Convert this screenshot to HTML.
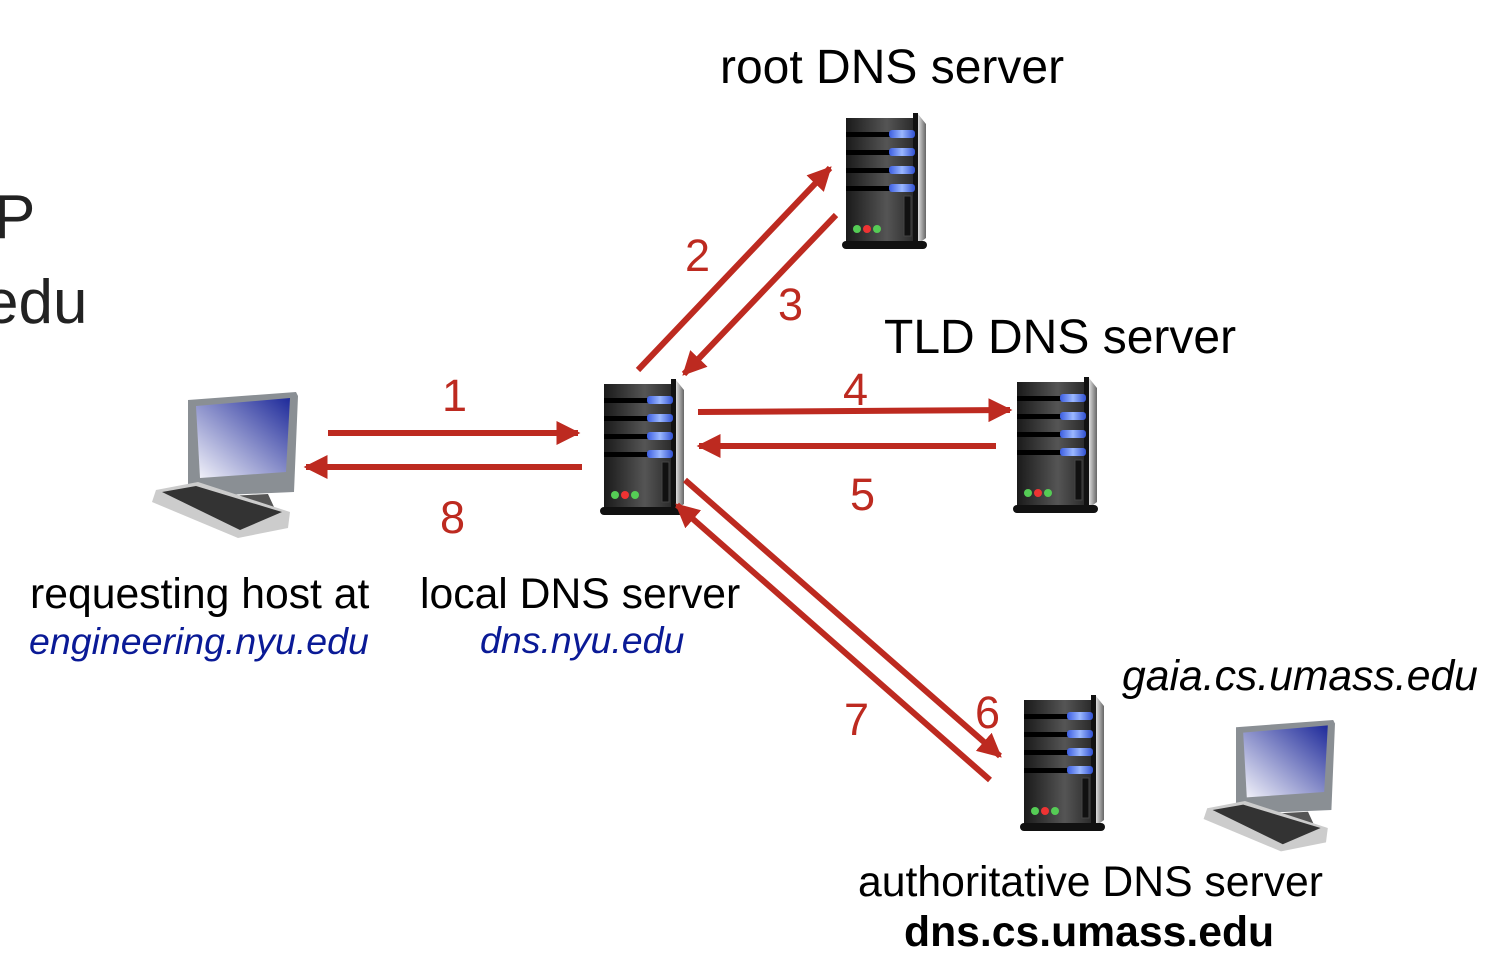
<!DOCTYPE html>
<html><head><meta charset="utf-8"><style>
html,body{margin:0;padding:0;background:#fff;}
svg{display:block;font-family:"Liberation Sans",sans-serif;}
</style></head><body>
<svg width="1500" height="972" viewBox="0 0 1500 972" xmlns="http://www.w3.org/2000/svg">
<defs>
<linearGradient id="sv" x1="0" x2="1" y1="0" y2="0"><stop offset="0" stop-color="#1a1a1a"/><stop offset="0.6" stop-color="#555"/><stop offset="1" stop-color="#2a2a2a"/></linearGradient>
<linearGradient id="sd" x1="0" x2="1"><stop offset="0" stop-color="#ddd"/><stop offset="1" stop-color="#666"/></linearGradient>
<linearGradient id="bl" x1="0" x2="1"><stop offset="0" stop-color="#3b5de0"/><stop offset="0.5" stop-color="#9bb8ff"/><stop offset="1" stop-color="#3050d0"/></linearGradient>
<linearGradient id="scr" x1="0" y1="1" x2="1" y2="0"><stop offset="0" stop-color="#f4f4fa"/><stop offset="1" stop-color="#1e2a9a"/></linearGradient>
<marker id="ah" viewBox="0 0 10 10" refX="9" refY="5" markerWidth="4" markerHeight="4" orient="auto-start-reverse"><path d="M0,0 L10,5 L0,10 z" fill="#bd2a20"/></marker>
<g id="server">
<rect x="4" y="8" width="68" height="124" fill="url(#sv)"/>
<path d="M76,4 L84,14 L84,128 L76,134 z" fill="url(#sd)"/>
<rect x="71" y="3" width="5" height="130" fill="#111"/>
<rect x="4" y="22" width="45" height="5" fill="#000"/><rect x="47" y="20" width="26" height="8" rx="3" fill="url(#bl)"/>
<rect x="4" y="40" width="45" height="5" fill="#000"/><rect x="47" y="38" width="26" height="8" rx="3" fill="url(#bl)"/>
<rect x="4" y="58" width="45" height="5" fill="#000"/><rect x="47" y="56" width="26" height="8" rx="3" fill="url(#bl)"/>
<rect x="4" y="76" width="45" height="5" fill="#000"/><rect x="47" y="74" width="26" height="8" rx="3" fill="url(#bl)"/>
<rect x="62" y="86" width="7" height="40" fill="#111" stroke="#444"/>
<circle cx="15" cy="119" r="4" fill="#5c5"/><circle cx="25" cy="119" r="4" fill="#e33"/><circle cx="35" cy="119" r="4" fill="#5c5"/>
<rect x="0" y="131" width="85" height="8" rx="4" fill="#111"/>
</g>
<g id="laptop">
<path d="M40,8 L148,0 L150,4 L146,100 L52,104 L40,100 z" fill="#8a8f94"/>
<path d="M48,14 L142,6 L138,80 L52,86 z" fill="url(#scr)"/>
<path d="M80,104 L120,102 L126,115 L70,118 z" fill="#555"/>
<path d="M8,98 L50,90 L142,120 L140,136 L90,146 L4,110 z" fill="#ccc"/>
<path d="M14,100 L48,94 L134,120 L92,138 z" fill="#333"/>
</g>
</defs>

<text x="-6" y="238" font-size="62" fill="#222">P</text>
<text x="-16" y="323" font-size="62" fill="#222">edu</text>

<use href="#server" x="600" y="376"/>
<use href="#server" x="842" y="110"/>
<use href="#server" x="1013" y="374"/>
<use href="#server" x="1020" y="692"/>
<use href="#laptop" x="148" y="392"/>
<use href="#laptop" x="1200" y="720" transform="translate(1200,720) scale(0.9) translate(-1200,-720)"/>

<g stroke="#bd2a20" stroke-width="6" fill="none">
<line x1="328" y1="433" x2="578" y2="433" marker-end="url(#ah)"/>
<line x1="582" y1="467" x2="306" y2="467" marker-end="url(#ah)"/>
<line x1="698" y1="412" x2="1010" y2="410" marker-end="url(#ah)"/>
<line x1="996" y1="446" x2="699" y2="446" marker-end="url(#ah)"/>
<line x1="638" y1="370" x2="830" y2="168" marker-end="url(#ah)"/>
<line x1="836" y1="215" x2="684" y2="374" marker-end="url(#ah)"/>
<line x1="685" y1="480" x2="1000" y2="756" marker-end="url(#ah)"/>
<line x1="990" y1="780" x2="677" y2="505" marker-end="url(#ah)"/>
</g>

<g font-size="45" fill="#bd2a20">
<text x="442" y="411">1</text>
<text x="685" y="271">2</text>
<text x="778" y="320">3</text>
<text x="843" y="405">4</text>
<text x="850" y="510">5</text>
<text x="975" y="728">6</text>
<text x="844" y="735">7</text>
<text x="440" y="533">8</text>
</g>

<g font-size="48" fill="#000">
<text x="720" y="83">root DNS server</text>
<text x="884" y="353">TLD DNS server</text>
</g>
<g font-size="42.7" fill="#000">
<text x="30" y="608">requesting host at</text>
<text x="420" y="608">local DNS server</text>
<text x="858" y="896">authoritative DNS server</text>
<text x="904" y="946" font-weight="bold">dns.cs.umass.edu</text>
<text x="1122" y="690" font-style="italic">gaia.cs.umass.edu</text>
</g>
<g font-size="37.5" fill="#0a1a96" font-style="italic">
<text x="29" y="654">engineering.nyu.edu</text>
<text x="480" y="653">dns.nyu.edu</text>
</g>
</svg>
</body></html>
